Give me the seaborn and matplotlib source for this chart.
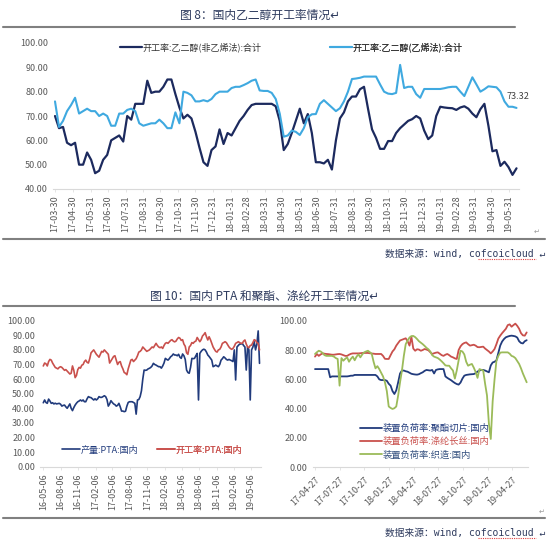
import pandas as pd
import matplotlib
matplotlib.use("Agg")
import matplotlib.pyplot as plt
import matplotlib.dates as mdates
from matplotlib.lines import Line2D
from matplotlib.ticker import FormatStrFormatter
import seaborn as sns

# ---------------- 数据 ----------------
# 图8：国内乙二醇开工率（周度，起点 2017-03-30）
meg_start = "2017-03-30"
meg_non_ethylene = [
    70, 65, 65.5, 59, 58, 59, 50, 50, 55, 52,
    46.5, 47.5, 52, 54, 60, 61, 62, 59.5, 70, 68.5,
    75, 75, 75, 84.5, 79.5, 80, 80, 82, 85, 85,
    79, 73.5, 69, 70.5, 69, 63.5, 57, 51, 49.5, 56,
    57.5, 64.5, 58.5, 63, 62, 65, 68, 70, 72.5, 74.5,
    75, 75, 75, 75, 75, 74, 68, 56, 58.5, 63,
    68, 73, 67, 70.8, 63, 51, 51, 50.5, 52, 48,
    60, 69, 71.5, 76, 78, 78, 81, 82, 73, 64.5,
    61, 56.5, 56.5, 59.7, 59.7, 63, 65, 66.5, 68, 68.7,
    70, 69, 64, 60.5, 62, 70, 73.8, 73.5, 73.3, 73.2,
    72.5, 73.5, 74, 73, 71, 69.5, 72.8, 75, 66, 55.5,
    56, 49.5, 51.2, 49, 45.8, 48.5,
]
meg_ethylene = [
    76, 65.5, 68, 72, 74.5, 77.5, 71, 72, 73, 72,
    72, 70, 71, 70, 66, 66, 71, 71, 72.5, 73,
    72, 67, 66, 66.5, 67, 67, 68.5, 67, 65, 65,
    71.5, 67, 80, 79.5, 78.5, 76, 76, 76.5, 76, 77,
    79, 80, 80, 80, 81.5, 82, 82, 82.7, 83.5, 84.5,
    85, 80.5, 80.3, 80.3, 79.5, 77, 71, 61.5, 62, 64,
    63.5, 62.2, 65, 69.5, 70.7, 70.8, 75, 76.5, 75, 73.5,
    72, 73.2, 76, 80, 85.2, 85.4, 85.7, 86.2, 86.2, 86.2,
    86.2, 83, 80, 79.2, 79, 79.5, 91, 81.5, 82, 82,
    79, 77.5, 81.1, 81.1, 81.1, 81.1, 81.1, 81.4, 81.8, 82,
    82, 80, 78.2, 82, 85.9, 83, 80, 81, 82.2, 82,
    81.8, 80, 76, 73.8, 73.8, 73.32,
]
meg_ticks = [
    "17-03-30", "17-04-30", "17-05-31", "17-06-30", "17-07-31", "17-08-31",
    "17-09-30", "17-10-31", "17-11-30", "17-12-31", "18-01-31", "18-02-28",
    "18-03-31", "18-04-30", "18-05-31", "18-06-30", "18-07-31", "18-08-31",
    "18-09-30", "18-10-31", "18-11-30", "18-12-31", "19-01-31", "19-02-28",
    "19-03-31", "19-04-30", "19-05-31",
]

# 图10 左：PTA 产量与开工率（周度，起点 2016-05-06）
pta_start = "2016-05-06"
pta_output = [
    43.8, 45.7, 44, 43.4, 46.3, 45, 43.4, 43.8, 43, 43.5,
    43, 43.2, 43.4, 42.8, 41.5, 42, 42.2, 41, 40, 41.5,
    43, 40, 38.4, 40.5, 42.2, 43.5, 44.5, 45, 45.7, 45,
    45.7, 44.5, 44.5, 46.5, 48, 47.5, 47.3, 46.5, 45.7, 46.5,
    45.7, 46.5, 48, 47.5, 47.5, 48, 48.6, 48, 46, 41.5,
    43, 45.2, 44, 43, 42.5, 41.5, 42, 43.4, 41, 38.1,
    38.1, 37.7, 38, 41.5, 44, 44.5, 44.5, 44.5, 44, 43.4,
    36, 45.7, 46, 48, 52, 60, 66.2, 66, 66.2, 67,
    67.4, 68, 69, 70.8, 70, 69.6, 69, 68.5, 68.5, 67.5,
    69, 71, 74.2, 73.5, 73, 74, 75.3, 76, 77.2, 76.5,
    76.5, 76, 77, 75, 74.2, 77.2, 76, 73.5, 66.2, 64.5,
    64, 68, 74.2, 74, 74.2, 76, 77.6, 45.7, 77.6, 79,
    80, 80.5, 80, 78.5, 76.5, 75.5, 74.2, 73, 68.5, 69,
    69.6, 69, 68.5, 70, 73, 74, 75.3, 74.5, 73.5, 73,
    73.5, 73, 72.6, 72, 80, 59.4, 82, 83, 84, 84,
    84.5, 83, 82, 66.2, 82, 80, 45.7, 80, 82, 85.6,
    80, 84, 93, 70.8,
]
pta_rate = [
    69, 71, 70.5, 69, 72, 73.5, 73, 71, 69.5, 68,
    67.5, 67, 68, 68.5, 68, 67, 66, 66.5, 65.5, 64.5,
    63.5, 64, 69, 66, 61, 62.5, 66.5, 68, 67.5, 69.5,
    70, 72, 73, 71.5, 71, 74, 78, 79, 80, 78.5,
    77, 76, 75, 77, 79, 78.5, 80, 79, 78, 77,
    71, 72.5, 74, 75.5, 76, 73, 70, 71.5, 72, 69,
    67, 64.5, 64, 63, 67, 70, 73, 73.5, 72, 73,
    74, 76, 78.5, 79, 80, 82, 81, 80, 79, 79.5,
    80, 81, 82, 81.5, 83, 84.5, 83, 82, 81.5, 82,
    81, 83, 84.5, 85, 84.5, 85.5, 86.5, 87, 86, 85.5,
    86, 87.5, 88.5, 88, 86.5, 87, 84, 82.5, 78, 77,
    82, 83, 85, 84.5, 85.6, 86, 88.5, 87, 85.6, 87,
    89.5, 90.5, 91.8, 89, 86.8, 89, 87, 84.5, 82, 80.4,
    79, 78.5, 80, 80.4, 82, 84.5, 85, 85.6, 85, 83.5,
    82, 81, 80.4, 81, 82.5, 84.5, 85, 85.6, 85, 84.5,
    84.5, 86, 86.8, 84, 82, 81.5, 83, 83.3, 85, 87,
    86.5, 85, 84.5, 80,
]
pta_ticks = [
    "16-05-06", "16-08-06", "16-11-06", "17-02-06", "17-05-06", "17-08-06",
    "17-11-06", "18-02-06", "18-05-06", "18-08-06", "18-11-06", "19-02-06",
    "19-05-06",
]

# 图10 右：装置负荷率（周度，起点 2017-04-27）
load_start = "2017-04-27"
load_chip = [
    67, 67, 67, 67, 67, 67, 67, 67, 61.4, 62,
    62, 62, 62, 62, 62, 62, 62, 62, 62.2, 62.5,
    62.5, 63, 63, 63, 63, 63, 63, 63, 63, 63,
    63, 63, 63, 62, 60, 59.5, 59.5, 59.5, 59, 57,
    55.7, 52, 50, 52.5, 58, 64, 66, 66, 65.5, 65.2,
    64.5, 63.8, 63.5, 63.3, 63.2, 63.5, 64.2, 64.8, 65.8, 66.4,
    66.2, 66, 66.4, 64, 66.4, 66.8, 67, 67, 67, 62,
    61, 60.2, 59.4, 58.4, 57.5, 56.8, 56.4, 57.8, 60.5, 62.5,
    63, 63.2, 63.4, 63.5, 63.6, 64.2, 65.3, 66, 66.4, 66.4,
    66, 65.4, 64.8, 69.5, 71.5, 72, 73, 78, 83, 85.8,
    87.5, 88.7, 89.2, 89.6, 89.8, 89.6, 89.3, 88.5, 86, 84.8,
    84.5, 86, 86.7,
]
load_filament = [
    75.5, 77.3, 76, 77, 77.7, 77.5, 77.3, 77.2, 77, 76.8,
    76.8, 77, 77.2, 77.3, 77, 76.5, 76, 76, 76.8, 77.4,
    77.7, 77.7, 77.7, 77.7, 77.8, 78, 78, 78, 78, 77.8,
    77.6, 77.5, 77.3, 77.3, 77.3, 77.3, 76, 74, 73.9, 73.9,
    76.5, 79, 80.5, 83, 84.8, 86.5, 87, 87.5, 88, 86,
    83, 89, 81, 79.5, 80.5, 80.3, 79.5, 80, 80.7, 80.3,
    79.8, 78.5, 77.3, 77.8, 78.2, 78.4, 77.5, 76.5, 76, 76.8,
    77.3, 76.5, 75.5, 75, 74.3, 73.9, 80, 82.5, 84, 84.8,
    85.2, 84, 83, 83.3, 83.6, 83, 82, 81.9, 82.1, 82.3,
    81, 80, 79, 77.7, 79, 80.7, 84, 87.8, 89.8, 91.5,
    93, 94.5, 97, 97.5, 95.9, 97, 98, 96.5, 94.5, 91.5,
    90, 89.8, 92,
]
load_weaving = [
    77.3, 78.5, 79.5, 79, 78, 76.5, 76, 76, 76, 76,
    75.5, 74.5, 73.9, 55.7, 74.5, 72.7, 74, 75, 72, 74,
    75.5, 73, 75.5, 77, 75, 77, 78.4, 79, 79.5, 78.5,
    77.5, 72, 67.5, 69, 67, 64.5, 62, 58, 52, 41.5,
    40.5, 39.8, 40.3, 41.5, 49, 58, 66, 76, 84, 86.5,
    88.5, 89.5, 89.6, 88.8, 87.5, 86, 85, 84, 82.8, 81.5,
    80.5, 79, 76.5, 75.5, 75, 74.5, 73.5, 72.3, 71, 69.5,
    69.3, 69.3, 67.5, 66, 60.5, 66, 73, 79.5, 79, 77,
    72, 69.3, 70, 70.5, 68, 65, 61, 67, 66.5, 66,
    57, 49, 30, 19.3, 45, 60, 72.7, 76, 78.2, 78.4,
    78.4, 78.4, 78.4, 77.5, 76, 75.5, 74.5, 72.5, 70.5, 67.5,
    64, 61, 58,
]
load_ticks = [
    "17-04-27", "17-07-27", "17-10-27", "18-01-27", "18-04-27", "18-07-27",
    "18-10-27", "19-01-27", "19-04-27",
]

# ---------------- 样式 ----------------
sns.set_theme(style="white")
plt.rcParams["font.family"] = ["Noto Sans CJK SC", "DejaVu Sans"]
plt.rcParams["axes.unicode_minus"] = False

NAVY = "#1c2a5e"
SKY = "#3fa9e0"
BLUE = "#213b7c"
RED = "#c9504c"
GREEN = "#9bbb59"
TICK = "#595959"
CAPTION = "#2e3b5e"
RULE = "#808080"

W, H = 554, 550
fig = plt.figure(figsize=(W / 100, H / 100), dpi=100)
fig.patch.set_facecolor("white")


def fx(x):
    return x / W


def fy(y):
    return 1 - y / H


def axes_px(x0, y0, x1, y1):
    return fig.add_axes([x0 / W, 1 - y1 / H, (x1 - x0) / W, (y1 - y0) / H])


def weekly(start, **cols):
    df = pd.DataFrame(cols)
    df["date"] = pd.date_range(start, periods=len(df), freq="7D")
    return df


def dress(ax, ticks, x0, x1, ref_px, px_day, ylim, ystep, rot, xpad, ypad):
    tick_dates = pd.to_datetime(ticks, format="%y-%m-%d")
    ref = mdates.date2num(tick_dates[0])
    ax.set_xlim(ref - (ref_px - x0) / px_day, ref + (x1 - ref_px) / px_day)
    ax.set_ylim(*ylim)
    ax.set_yticks(range(ylim[0], ylim[1] + 1, ystep))
    ax.yaxis.set_major_formatter(FormatStrFormatter("%.2f"))
    ax.set_xticks(tick_dates)
    if rot == 90:
        ax.set_xticklabels(ticks, rotation=90, ha="center", va="top")
    else:
        ax.set_xticklabels(ticks, rotation=rot, ha="right", va="top",
                           rotation_mode="anchor")
    for s in ("top", "right", "left"):
        ax.spines[s].set_visible(False)
    ax.spines["bottom"].set_color("#d9d9d9")
    ax.spines["bottom"].set_linewidth(0.8)
    ax.tick_params(axis="y", length=0, pad=ypad, labelsize=6.5, labelcolor=TICK)
    ax.tick_params(axis="x", length=2, width=0.6, color="#e0e0e0", pad=xpad,
                   labelsize=6.5, labelcolor=TICK, bottom=True)
    ax.set_xlabel("")
    ax.set_ylabel("")
    ax.grid(False)
    ax.set_facecolor("none")


def entry(ax, line, label, x, y, color, hl=2.4):
    leg = ax.legend([line], [label], loc="center left", bbox_to_anchor=(fx(x), fy(y)),
                    bbox_transform=fig.transFigure, frameon=False, fontsize=6.5,
                    handlelength=hl, handletextpad=0.05, borderpad=0, borderaxespad=0)
    leg.get_texts()[0].set_color(color)
    ax.add_artist(leg)


# ---------------- 图8 ----------------
meg = weekly(meg_start, non=meg_non_ethylene, eth=meg_ethylene)
ax1 = axes_px(53, 43, 519, 189)
sns.lineplot(data=meg, x="date", y="non", color=NAVY, linewidth=1.6, ax=ax1, legend=False)
sns.lineplot(data=meg, x="date", y="eth", color=SKY, linewidth=1.5, ax=ax1, legend=False)
dress(ax1, meg_ticks, 53, 519, 55, 0.5733, (40, 100), 10, 90, 2.5, 3.5)
ax1.annotate(f"{meg_ethylene[-1]:.2f}", xy=(meg["date"].iloc[-1], meg_ethylene[-1]),
             xytext=(1, 8.5), textcoords="offset points", ha="center", va="center",
             fontsize=6.5, color="#404040")
entry(ax1, ax1.lines[0], "开工率:乙二醇(非乙烯法):合计", 120, 47.5, "#333333")
entry(ax1, ax1.lines[1], "开工率:乙二醇(乙烯法):合计", 330, 47.5, "#333333")

# ---------------- 图10 左 ----------------
pta = weekly(pta_start, output=pta_output, rate=pta_rate)
ax2 = axes_px(40, 320.7, 261, 466.7)
sns.lineplot(data=pta, x="date", y="output", color=BLUE, linewidth=1.2, ax=ax2, legend=False)
sns.lineplot(data=pta, x="date", y="rate", color=RED, linewidth=1.2, ax=ax2, legend=False)
dress(ax2, pta_ticks, 40, 261, 43.3, 0.1895, (0, 100), 10, 90, 3, 3.5)
entry(ax2, ax2.lines[0], "产量:PTA:国内", 61.7, 450, BLUE, hl=2.0)
entry(ax2, ax2.lines[1], "开工率:PTA:国内", 156.7, 450, RED, hl=2.0)

# ---------------- 图10 右 ----------------
load = weekly(load_start, chip=load_chip, filament=load_filament, weaving=load_weaving)
ax3 = axes_px(313, 320.7, 528, 467.3)
sns.lineplot(data=load, x="date", y="chip", color=BLUE, linewidth=1.3, ax=ax3, legend=False)
sns.lineplot(data=load, x="date", y="filament", color=RED, linewidth=1.3, ax=ax3, legend=False)
sns.lineplot(data=load, x="date", y="weaving", color=GREEN, linewidth=1.3, ax=ax3, legend=False)
dress(ax3, load_ticks, 313, 528, 315, 0.270, (0, 100), 20, 45, 3.5, 4)
leg3 = ax3.legend(ax3.lines[:3], ["装置负荷率:聚酯切片:国内", "装置负荷率:涤纶长丝:国内", "装置负荷率:织造:国内"],
                  loc="center left", bbox_to_anchor=(fx(360), fy(441.7)),
                  bbox_transform=fig.transFigure, frameon=False, fontsize=6.7,
                  handlelength=2.4, handletextpad=0.05, labelspacing=0.45,
                  borderpad=0, borderaxespad=0)
for t, c in zip(leg3.get_texts(), [BLUE, RED, "#34507f"]):
    t.set_color(c)

# ---------------- 版面文字与分隔线 ----------------
for y, x1 in [(27, 515), (239, 545), (306, 515), (518, 545)]:
    fig.add_artist(Line2D([fx(3), fx(x1)], [fy(y), fy(y)], color=RULE, linewidth=1.5))

fig.text(fx(260), fy(15), "图 8：国内乙二醇开工率情况↵", ha="center", va="center",
         fontsize=8.5, color=CAPTION)
fig.text(fx(264), fy(296), "图 10：国内 PTA 和聚酯、涤纶开工率情况↵", ha="center", va="center",
         fontsize=8.5, color=CAPTION)
for y in (254, 533):
    fig.text(fx(545), fy(y), "数据来源：wind, cofcoicloud ↵", ha="right", va="center",
             fontsize=7, color=CAPTION,
             family=["DejaVu Sans Mono", "Noto Sans CJK SC", "DejaVu Sans"])
    # 拼写检查的红色波浪下划线
    fig.add_artist(Line2D([fx(478), fx(536)], [fy(y + 5), fy(y + 5)], color="#e04040",
                          linewidth=0.8, linestyle=(0, (1, 1))))
for x, y in [(537, 232), (542, 512)]:
    fig.text(fx(x), fy(y), "↵", ha="center", va="center", fontsize=5, color="#999999")

fig.savefig("out.png", dpi=100, facecolor="white")
